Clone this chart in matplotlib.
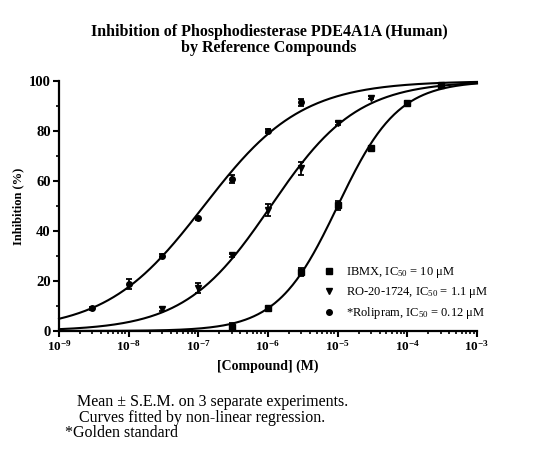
import numpy as np
import matplotlib
matplotlib.use("Agg")
import matplotlib.pyplot as plt
from matplotlib.lines import Line2D
from matplotlib.ticker import LogLocator, FixedLocator, NullFormatter, FixedFormatter

plt.rcParams["font.family"] = "Liberation Serif"
plt.rcParams["mathtext.fontset"] = "custom"
plt.rcParams["mathtext.rm"] = "Liberation Serif"
plt.rcParams["mathtext.it"] = "Liberation Serif:italic"
plt.rcParams["mathtext.bf"] = "Liberation Serif:bold"

# data (mean, S.E.M.)
ibmx_conc = [3e-7, 1e-6, 3e-6, 1e-5, 3e-5, 1e-4, 3e-4]
ibmx_inh = [1.7, 9.2, 23.8, 50.4, 73.2, 91.3, 98.2]
ibmx_sem = [1.6, 0.6, 1.6, 1.8, 0.8, 0.8, 0.5]

ro_conc = [3e-8, 1e-7, 3e-7, 1e-6, 3e-6, 1e-5, 3e-5]
ro_inh = [9.0, 17.4, 30.3, 48.5, 65.0, 83.0, 93.2]
ro_sem = [0.8, 2.0, 0.6, 2.4, 2.4, 0.6, 0.6]

roli_conc = [3e-9, 1e-8, 3e-8, 1e-7, 3e-7, 1e-6, 3e-6]
roli_inh = [9.2, 18.8, 30.2, 45.2, 60.8, 79.8, 91.4]
roli_sem = [0.6, 2.0, 0.6, 0.6, 1.6, 0.8, 1.4]

# fitted sigmoid parameters (IC50 in M, Hill slope)
ibmx_fit = (1.0e-5, 1.0)
ro_fit = (1.1e-6, 0.70)
roli_fit = (1.2e-7, 0.62)

labels = [r"IBMX, IC$_{50}$ = 10 $\mathrm{\mu}$M",
          r"RO-20-1724, IC$_{50}$ = 1.1 $\mathrm{\mu}$M",
          r"*Rolipram, IC$_{50}$ = 0.12 $\mathrm{\mu}$M"]
markers = ["s", "v", "o"]

xticks = [1e-9, 1e-8, 1e-7, 1e-6, 1e-5, 1e-4, 1e-3]
xticklabels = [r"$\mathbf{10^{-%d}}$" % n for n in range(9, 2, -1)]


def hill(x, ic50, h):
    return 100.0 / (1.0 + (ic50 / x) ** h)


fig = plt.figure(figsize=(5.38, 4.54), dpi=100)
ax = fig.add_axes([0.1097, 0.2709, 0.7769, 0.5507])

xs = np.logspace(-9, -3, 400)
series = [(ibmx_conc, ibmx_inh, ibmx_sem, ibmx_fit),
          (ro_conc, ro_inh, ro_sem, ro_fit),
          (roli_conc, roli_inh, roli_sem, roli_fit)]
for (c, y, e, fit), m in zip(series, markers):
    ax.plot(xs, hill(xs, *fit), color="black", lw=1.5, clip_on=False, zorder=2)
    ax.errorbar(c, y, yerr=e, fmt=m, color="black", ms=4, capsize=2.5,
                elinewidth=1.3, capthick=1.3, zorder=3, clip_on=False)

ax.set_xscale("log")
ax.set_xlim(1e-9, 1e-3)
ax.set_ylim(0, 100)

ax.xaxis.set_major_locator(FixedLocator(xticks))
ax.xaxis.set_major_formatter(FixedFormatter(xticklabels))
ax.xaxis.set_minor_locator(LogLocator(base=10, subs=np.arange(2, 10), numticks=20))
ax.xaxis.set_minor_formatter(NullFormatter())
ax.set_yticks([0, 20, 40, 60, 80, 100])
ax.set_yticks(range(10, 100, 20), minor=True)

for s in ["top", "right"]:
    ax.spines[s].set_visible(False)
for s in ["left", "bottom"]:
    ax.spines[s].set_linewidth(1.6)
ax.tick_params(which="major", length=4, width=1.5, pad=2)
ax.tick_params(axis="x", labelsize=9.5)
ax.tick_params(axis="y", labelsize=10.5)
ax.tick_params(which="minor", length=2.5, width=1.2)
for lab in ax.get_yticklabels():
    lab.set_fontweight("bold")

ax.set_ylabel("Inhibition (%)", fontsize=9, fontweight="bold", labelpad=3)
ax.set_xlabel("[Compound] (M)", fontsize=10, fontweight="bold", labelpad=4)

handles = [Line2D([], [], ls="none", marker=m, color="black", ms=4) for m in markers]
ax.legend(handles, labels, loc="upper left", bbox_to_anchor=(0.632, 0.264),
          frameon=False, fontsize=9, borderpad=0, borderaxespad=0,
          handlelength=1.0, handletextpad=0.8, labelspacing=0.4)

fig.text(0.5, 0.911, "Inhibition of Phosphodiesterase PDE4A1A (Human)\nby Reference Compounds",
         ha="center", va="center", fontsize=11.5, fontweight="bold", linespacing=1.0)

fig.text(0.143, 0.115, "Mean \u00b1 S.E.M. on 3 separate experiments.", fontsize=11.5, va="center")
fig.text(0.146, 0.079, "Curves fitted by non-linear regression.", fontsize=11.5, va="center")
fig.text(0.12, 0.046, "*Golden standard", fontsize=11.5, va="center")

fig.savefig("out.png", dpi=100)
